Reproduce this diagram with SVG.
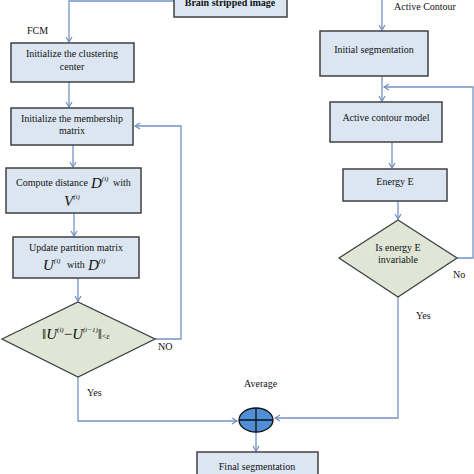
<svg xmlns="http://www.w3.org/2000/svg" width="474" height="474" viewBox="0 0 474 474">
<defs>
<marker id="ah" markerWidth="8" markerHeight="8" refX="6" refY="4" orient="auto" markerUnits="userSpaceOnUse">
<path d="M1,1 L6,4 L1,7" fill="none" stroke="#6f8fc2" stroke-width="1.2"/>
</marker>
</defs>
<style>
.box{fill:#dce6f2;stroke:#404040;stroke-width:1.5}
.dia{fill:#dfe6d6;stroke:#404040;stroke-width:1.3}
.t{font-family:"Liberation Serif","Times New Roman",serif;font-size:10px;fill:#111;text-anchor:middle}
.lab{font-family:"Liberation Serif","Times New Roman",serif;font-size:10px;fill:#111}
.m{font-family:"Liberation Serif","Times New Roman",serif;font-style:italic;fill:#111}
.c{fill:none;stroke:#7393c4;stroke-width:1.3}
</style>
<rect width="474" height="474" fill="#fff"/>
<g id="connectors">
<path class="c" d="M174,1 H69 V42" marker-end="url(#ah)"/>
<path class="c" d="M382,0 V30" marker-end="url(#ah)"/>
<path class="c" d="M69,82 V107" marker-end="url(#ah)"/>
<path class="c" d="M73,145 V167" marker-end="url(#ah)"/>
<path class="c" d="M74,213 V236" marker-end="url(#ah)"/>
<path class="c" d="M78,278 V301" marker-end="url(#ah)"/>
<path class="c" d="M155,339 H181 V126 H135" marker-end="url(#ah)"/>
<path class="c" d="M78,377 V421 H237" marker-end="url(#ah)"/>
<path class="c" d="M382,76 V101" marker-end="url(#ah)"/>
<path class="c" d="M457,258 H473 V87 H384" marker-end="url(#ah)"/>
<path class="c" d="M392,142 V168" marker-end="url(#ah)"/>
<path class="c" d="M398,201 V219" marker-end="url(#ah)"/>
<path class="c" d="M398,297 V418 H275" marker-end="url(#ah)"/>
<path class="c" d="M256,432 V451" marker-end="url(#ah)"/>
</g>
<g id="brain">
<rect class="box" x="174" y="-10" width="113" height="27"/>
<text class="t" x="230" y="6" font-weight="bold">Brain stripped image</text>
</g>
<g id="labels">
<text class="lab" x="27" y="34">FCM</text>
<text class="lab" x="394" y="10">Active Contour</text>
<text class="lab" x="158" y="350">NO</text>
<text class="lab" x="87" y="396">Yes</text>
<text class="lab" x="453" y="278">No</text>
<text class="lab" x="416" y="319">Yes</text>
<text class="lab" x="244" y="387">Average</text>
</g>
<g id="init-center">
<rect class="box" x="11" y="43" width="123" height="39"/>
<text class="t" x="72" y="57">Initialize the clustering</text>
<text class="t" x="72" y="70">center</text>
</g>
<g id="init-membership">
<rect class="box" x="11" y="108" width="122" height="37"/>
<text class="t" x="72" y="122">Initialize the membership</text>
<text class="t" x="72" y="134">matrix</text>
</g>
<g id="compute-distance">
<rect class="box" x="6" y="168" width="135" height="45"/>
<text class="lab" x="16" y="186">Compute distance</text>
<text class="m" x="91" y="188" font-size="15">D<tspan font-size="7" dy="-7">(i)</tspan></text>
<text class="lab" x="113" y="186">with</text>
<text class="m" x="64" y="206" font-size="15">V<tspan font-size="7" dy="-7">(i)</tspan></text>
</g>
<g id="update-partition">
<rect class="box" x="13" y="237" width="126" height="41"/>
<text class="t" x="76" y="251">Update partition matrix</text>
<text class="m" x="43" y="270" font-size="15">U<tspan font-size="7" dy="-7">(i)</tspan></text>
<text class="lab" x="67" y="268">with</text>
<text class="m" x="88" y="270" font-size="15">D<tspan font-size="7" dy="-7">(i)</tspan></text>
</g>
<g id="converge">
<polygon class="dia" points="2,339 78,302 155,339 78,377"/>
<text class="m" x="42" y="339" font-size="15"><tspan font-style="normal">‖</tspan>U<tspan font-size="7" dy="-7">(i)</tspan><tspan dy="7" font-style="normal">−</tspan>U<tspan font-size="7" dy="-7">(i−1)</tspan><tspan dy="7" font-style="normal">‖</tspan><tspan font-size="8" font-style="normal">&lt;</tspan><tspan font-size="8">ε</tspan></text>
</g>
<g id="initial-seg">
<rect class="box" x="320" y="31" width="108" height="45"/>
<text class="t" x="374" y="53">Initial segmentation</text>
</g>
<g id="active-model">
<rect class="box" x="330" y="102" width="112" height="40"/>
<text class="t" x="386" y="121">Active contour model</text>
</g>
<g id="energy">
<rect class="box" x="343" y="169" width="104" height="32"/>
<text class="t" x="395" y="185">Energy E</text>
</g>
<g id="invariable">
<polygon class="dia" points="339,258 398,220 457,258 398,297"/>
<text class="t" x="398" y="251">Is energy E</text>
<text class="t" x="398" y="263">invariable</text>
</g>
<g id="average">
<ellipse cx="256" cy="420" rx="17" ry="12" fill="#4f8ed8" stroke="#111" stroke-width="1.3"/>
<path d="M239,420 H273 M256,408 V432" stroke="#111" stroke-width="1.3"/>
</g>
<g id="final">
<rect class="box" x="197" y="452" width="121" height="30"/>
<text class="t" x="257" y="470">Final segmentation</text>
</g>
</svg>
